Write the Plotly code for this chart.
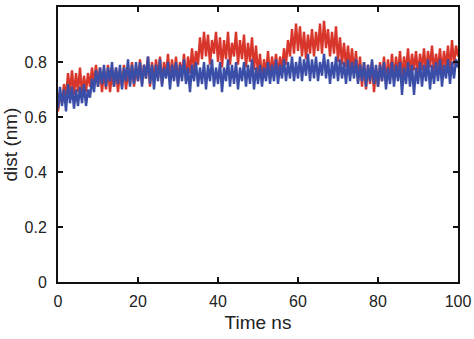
import plotly.graph_objects as go

time_ns = [i * 0.5 for i in range(201)]

blue_dist = [
    0.63,0.71,0.64,0.70,0.62,0.72,0.65,0.71,0.63,0.70,
    0.64,0.71,0.65,0.72,0.64,0.70,0.67,0.74,0.69,0.77,
    0.71,0.78,0.72,0.79,0.71,0.78,0.73,0.80,0.71,0.78,
    0.72,0.79,0.70,0.78,0.73,0.81,0.71,0.79,0.72,0.80,
    0.73,0.80,0.71,0.79,0.74,0.82,0.72,0.79,0.70,0.79,
    0.73,0.81,0.71,0.78,0.74,0.80,0.70,0.79,0.73,0.80,
    0.71,0.79,0.73,0.81,0.72,0.78,0.69,0.79,0.73,0.80,
    0.71,0.78,0.72,0.80,0.70,0.79,0.73,0.81,0.71,0.78,
    0.72,0.80,0.69,0.78,0.73,0.81,0.71,0.79,0.72,0.80,
    0.70,0.78,0.73,0.80,0.71,0.79,0.72,0.81,0.70,0.78,
    0.72,0.79,0.71,0.78,0.73,0.80,0.72,0.79,0.73,0.81,
    0.72,0.79,0.74,0.81,0.73,0.80,0.74,0.82,0.73,0.80,
    0.74,0.82,0.73,0.81,0.75,0.83,0.73,0.81,0.74,0.82,
    0.73,0.80,0.75,0.83,0.74,0.81,0.72,0.80,0.74,0.82,
    0.73,0.81,0.74,0.80,0.72,0.81,0.73,0.80,0.74,0.81,
    0.72,0.79,0.73,0.80,0.71,0.79,0.73,0.81,0.72,0.79,
    0.71,0.79,0.73,0.80,0.70,0.78,0.72,0.80,0.71,0.79,
    0.73,0.80,0.68,0.78,0.72,0.80,0.71,0.79,0.68,0.78,
    0.72,0.80,0.71,0.79,0.73,0.81,0.70,0.79,0.72,0.80,
    0.73,0.81,0.71,0.79,0.74,0.81,0.72,0.80,0.74,0.81,
    0.78,
]

red_dist = [
    0.62,0.69,0.65,0.72,0.67,0.76,0.69,0.77,0.68,0.76,
    0.69,0.78,0.68,0.75,0.69,0.76,0.71,0.78,0.72,0.79,
    0.71,0.78,0.69,0.77,0.70,0.79,0.69,0.76,0.71,0.78,
    0.69,0.77,0.71,0.79,0.70,0.77,0.72,0.80,0.71,0.78,
    0.73,0.81,0.72,0.79,0.74,0.82,0.71,0.80,0.73,0.81,
    0.74,0.82,0.72,0.80,0.75,0.83,0.73,0.81,0.74,0.82,
    0.72,0.80,0.75,0.83,0.73,0.82,0.76,0.85,0.77,0.84,
    0.79,0.89,0.81,0.91,0.82,0.90,0.79,0.88,0.83,0.91,
    0.80,0.89,0.78,0.88,0.81,0.91,0.79,0.87,0.82,0.91,
    0.79,0.88,0.81,0.90,0.78,0.87,0.80,0.89,0.77,0.86,
    0.75,0.83,0.73,0.81,0.75,0.84,0.74,0.82,0.76,0.83,
    0.75,0.82,0.77,0.85,0.79,0.88,0.82,0.92,0.83,0.94,
    0.84,0.93,0.82,0.91,0.81,0.90,0.83,0.92,0.82,0.91,
    0.84,0.94,0.83,0.95,0.85,0.92,0.82,0.91,0.83,0.93,
    0.80,0.89,0.79,0.87,0.78,0.86,0.77,0.85,0.76,0.84,
    0.73,0.82,0.71,0.80,0.70,0.79,0.72,0.80,0.69,0.78,
    0.71,0.80,0.73,0.82,0.72,0.81,0.74,0.83,0.73,0.82,
    0.75,0.84,0.74,0.82,0.76,0.85,0.75,0.83,0.77,0.84,
    0.75,0.83,0.77,0.85,0.76,0.84,0.78,0.86,0.76,0.83,
    0.77,0.85,0.76,0.84,0.78,0.86,0.77,0.88,0.79,0.86,
    0.82,
]

x_ticks = [0, 20, 40, 60, 80, 100]
y_ticks = [0, 0.2, 0.4, 0.6, 0.8, 1]
y_tick_text = ["0", "0.2", "0.4", "0.6", "0.8", "1"]

fig = go.Figure()
fig.add_trace(go.Scatter(x=time_ns, y=red_dist, mode="lines",
                         line=dict(color="#d8362b", width=2.4), showlegend=False))
fig.add_trace(go.Scatter(x=time_ns, y=blue_dist, mode="lines",
                         line=dict(color="#3a4ea8", width=2.4), showlegend=False))

font = dict(family="Liberation Sans, Arial, sans-serif", size=16, color="#222")
fig.update_layout(
    width=474, height=339,
    margin=dict(l=58, r=16, t=7, b=57),
    paper_bgcolor="white", plot_bgcolor="white",
    font=font,
)
fig.update_xaxes(
    range=[0, 100], tickvals=x_ticks, ticks="inside", ticklen=5, tickwidth=2,
    tickcolor="#111", showline=True, linecolor="#111", linewidth=2, mirror="ticks",
    showgrid=False, zeroline=False, title=dict(text="Time ns", standoff=6),
    ticklabelstandoff=4, automargin=False,
)
fig.update_yaxes(
    range=[0, 1], tickvals=y_ticks, ticktext=y_tick_text, ticks="inside", ticklen=5,
    tickwidth=2, tickcolor="#111", showline=True, linecolor="#111", linewidth=2,
    mirror="ticks", showgrid=False, zeroline=False,
    title=dict(text="dist (nm)", standoff=6), ticklabelstandoff=6, automargin=False,
)
fig.write_html("out.html")
